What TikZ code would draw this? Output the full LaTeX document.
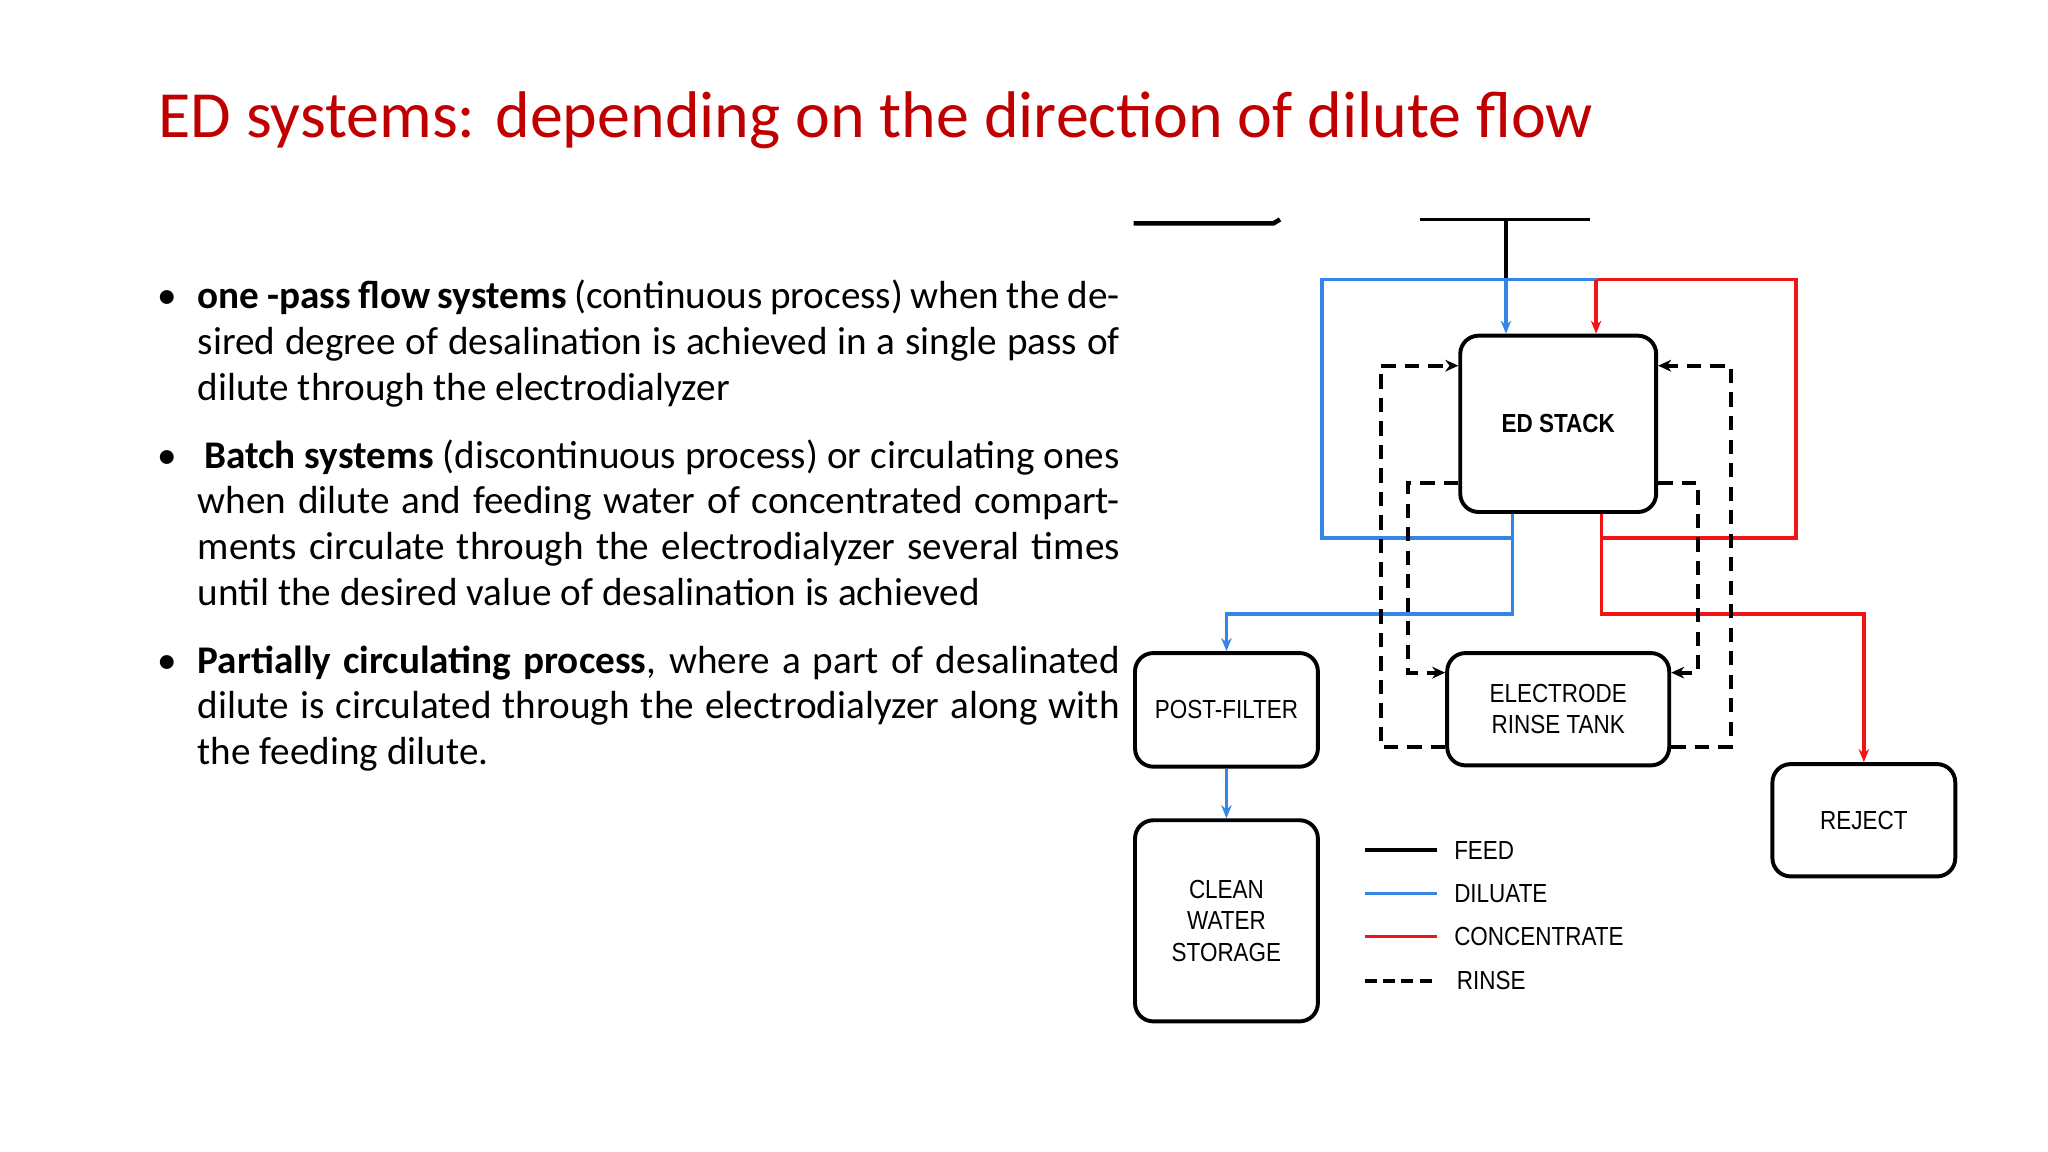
\documentclass[tikz,border=0pt]{standalone}
\usepackage{fontspec}
\setmainfont{Carlito}
\newfontfamily\diagfont[FakeStretch=0.86]{Liberation Sans}
\usepackage{enumitem}
\usetikzlibrary{arrows.meta}
\definecolor{titlered}{RGB}{192,0,0}
\definecolor{dilblue}{RGB}{51,133,230}
\definecolor{concred}{RGB}{240,20,20}

\begin{document}
\begin{tikzpicture}[x=1pt, y=-1pt, line width=2.8pt]
    \tikzstyle{unit} = [draw=black, line width=3pt, rounded corners=14pt, font=\diagfont\fontsize{20}{24}\selectfont, align=center, inner sep=0pt]
    \tikzstyle{feed} = [black]
    \tikzstyle{dil} = [dilblue, -{Stealth[length=10pt,width=8pt]}]
    \tikzstyle{conc} = [concred, -{Stealth[length=10pt,width=8pt]}]
    \tikzstyle{rinse} = [black, line width=3pt, dash pattern=on 11pt off 7pt, -{Stealth[length=10pt,width=9pt]}]
    \tikzstyle{legtext} = [anchor=west, text=black, font=\diagfont\fontsize{20}{24}\selectfont, inner sep=0pt]

    \useasboundingbox (0,0) rectangle (1568,882);

    % Title and text
    \node [anchor=base west, inner sep=0pt, text=titlered, font=\fontsize{50.5}{60}\selectfont] (title) at (120,105) {ED systems: depending on the direction of dilute flow};
    \node [anchor=north west, inner sep=0pt, text width=736pt, align=justify, font=\fontsize{30}{35}\selectfont] (body) at (120,200) {%
      \begin{itemize}[leftmargin=30pt, labelsep=16pt, itemsep=17pt, topsep=0pt, parsep=0pt]
        \item \textbf{one -pass flow systems} (continuous process) when the desired degree of desalination is achieved in a single pass of dilute through the electrodialyzer
        \item \textbf{\,Batch systems} (discontinuous process) or circulating ones when dilute and feeding water of concentrated compartments circulate through the electrodialyzer several times until the desired value of desalination is achieved
        \item \textbf{Partially circulating process}, where a part of desalinated dilute is circulated through the electrodialyzer along with the feeding dilute.
      \end{itemize}};

    % Units
    \node [unit, minimum width=150pt, minimum height=135pt, font=\diagfont\bfseries\fontsize{20}{24}\selectfont] (stack) at (1193,324.5) {ED STACK};
    \node [unit, minimum width=170pt, minimum height=86pt] (tank) at (1193,543) {ELECTRODE\\RINSE TANK};
    \node [unit, minimum width=140pt, minimum height=87pt] (postfilter) at (939,543.5) {POST-FILTER};
    \node [unit, minimum width=140pt, minimum height=154pt] (storage) at (939,705) {CLEAN\\WATER\\STORAGE};
    \node [unit, minimum width=140pt, minimum height=86pt] (reject) at (1427,628) {REJECT};

    % Feed
    \coordinate (feedtop) at (1153,168);
    \draw [feed, line width=3.5pt] (868,171) -- (975,171) -- (980,168);
    \draw [feed] (1087,168) -- (1217,168);
    \draw [feed] (feedtop) -- (1153,214);

    % Dilute
    \draw [dil] (1153,214) -- (stack.north -| 1153,0);
    \draw [dilblue] (stack.south -| 1158,0) -- (1158,412) -- (1012,412) -- (1012,214) -- (1223,214);
    \draw [dil] (1158,412) -- (1158,470) -| (postfilter.north);
    \draw [dil] (postfilter.south) -- (storage.north);

    % Concentrate
    \draw [conc] (1222,214) -- (stack.north -| 1222,0);
    \draw [concred] (1223,214) -- (1375,214) -- (1375,412) -- (1226,412) -- (stack.south -| 1226,0);
    \draw [conc] (1226,412) -- (1226,470) -| (reject.north);

    % Rinse
    \draw [rinse] (tank.west |- 0,572) -- (1057,572) -- (1057,280) -- (stack.west |- 0,280);
    \draw [rinse] (tank.east |- 0,572) -- (1325,572) -- (1325,280) -- (stack.east |- 0,280);
    \draw [rinse] (stack.west |- 0,370) -- (1078,370) -- (1078,515) -- (tank.west |- 0,515);
    \draw [rinse] (stack.east |- 0,370) -- (1300,370) -- (1300,515) -- (tank.east |- 0,515);

    % Legend
    \draw [feed] (1045,651) -- (1100,651) node [legtext, right=12pt] (lfeed) {FEED};
    \draw [dilblue] (1045,684) -- (1100,684) node [legtext, right=12pt] (ldil) {DILUATE};
    \draw [concred] (1045,717) -- (1100,717) node [legtext, right=12pt] (lconc) {CONCENTRATE};
    \draw [black, dash pattern=on 9pt off 5pt] (1045,751) -- (1100,751) node [legtext, right=14pt] (lrinse) {RINSE};
\end{tikzpicture}
\end{document}
